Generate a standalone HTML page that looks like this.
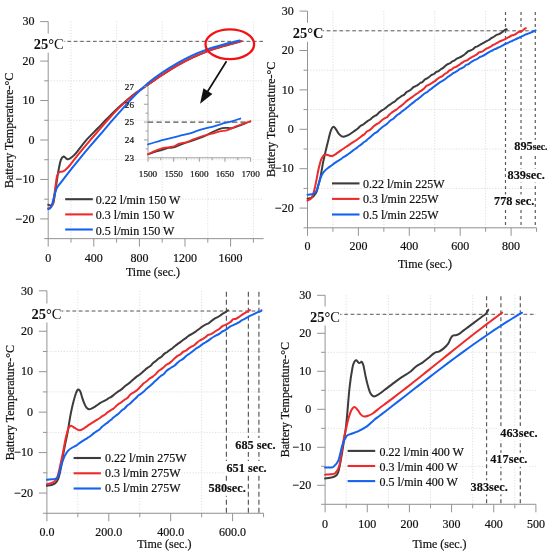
<!DOCTYPE html>
<html><head><meta charset="utf-8"><title>Battery temperature</title>
<style>html,body{margin:0;padding:0;background:#fff}svg{display:block}</style></head>
<body>
<svg width="550" height="555" viewBox="0 0 550 555">
<rect width="550" height="555" fill="#fff"/>
<g id="c3"><g stroke="#dedede" stroke-width="1" stroke-dasharray="1.2,1.6" fill="none"><line x1="77.85" y1="290.80" x2="77.85" y2="513.27"/><line x1="139.75" y1="290.80" x2="139.75" y2="513.27"/><line x1="201.65" y1="290.80" x2="201.65" y2="513.27"/><line x1="46.90" y1="513.27" x2="263.55" y2="513.27"/><line x1="46.90" y1="472.82" x2="263.55" y2="472.82"/><line x1="46.90" y1="432.38" x2="263.55" y2="432.38"/><line x1="46.90" y1="391.92" x2="263.55" y2="391.92"/><line x1="46.90" y1="351.47" x2="263.55" y2="351.47"/><line x1="46.90" y1="311.02" x2="263.55" y2="311.02"/></g>
<g stroke="#949494" stroke-width="1.0" fill="none"><path d="M46.90,290.80 V513.27 M42.90,513.27 H263.55"/><line x1="38.90" y1="493.05" x2="46.90" y2="493.05"/><line x1="42.90" y1="472.82" x2="46.90" y2="472.82"/><line x1="38.90" y1="452.60" x2="46.90" y2="452.60"/><line x1="42.90" y1="432.38" x2="46.90" y2="432.38"/><line x1="38.90" y1="412.15" x2="46.90" y2="412.15"/><line x1="42.90" y1="391.92" x2="46.90" y2="391.92"/><line x1="38.90" y1="371.70" x2="46.90" y2="371.70"/><line x1="42.90" y1="351.47" x2="46.90" y2="351.47"/><line x1="38.90" y1="331.25" x2="46.90" y2="331.25"/><line x1="42.90" y1="311.02" x2="46.90" y2="311.02"/><line x1="38.90" y1="290.80" x2="46.90" y2="290.80"/><line x1="46.90" y1="513.27" x2="46.90" y2="521.27"/><line x1="77.85" y1="513.27" x2="77.85" y2="517.27"/><line x1="108.80" y1="513.27" x2="108.80" y2="521.27"/><line x1="139.75" y1="513.27" x2="139.75" y2="517.27"/><line x1="170.70" y1="513.27" x2="170.70" y2="521.27"/><line x1="201.65" y1="513.27" x2="201.65" y2="517.27"/><line x1="232.60" y1="513.27" x2="232.60" y2="521.27"/><line x1="263.55" y1="513.27" x2="263.55" y2="517.27"/></g>
<g font-family="'Liberation Serif', 'Times New Roman', serif" font-size="12" fill="#111" stroke="#111" stroke-width="0.2"><text x="33.10" y="496.75" text-anchor="end">−20</text><text x="33.10" y="456.30" text-anchor="end">−10</text><text x="33.10" y="415.85" text-anchor="end">0</text><text x="33.10" y="375.40" text-anchor="end">10</text><text x="33.10" y="334.95" text-anchor="end">20</text><text x="33.10" y="294.50" text-anchor="end">30</text><text x="46.90" y="535.50" text-anchor="middle">0.0</text><text x="108.80" y="535.50" text-anchor="middle">200.0</text><text x="170.70" y="535.50" text-anchor="middle">400.0</text><text x="232.60" y="535.50" text-anchor="middle">600.0</text><text x="164.30" y="547.80" text-anchor="middle">Time (sec.)</text><text transform="translate(14.20,402.70) rotate(-90)" text-anchor="middle">Battery Temperature-°C</text></g>
<line x1="46.90" y1="311.02" x2="259.50" y2="311.02" stroke="#5a5a5a" stroke-width="1" stroke-dasharray="3.6,2.8"/>
<line x1="226.41" y1="291.80" x2="226.41" y2="513.27" stroke="#5c5c5c" stroke-width="1.2" stroke-dasharray="5,3"/>
<line x1="248.38" y1="291.80" x2="248.38" y2="513.27" stroke="#5c5c5c" stroke-width="1.2" stroke-dasharray="5,3"/>
<line x1="258.91" y1="291.80" x2="258.91" y2="513.27" stroke="#5c5c5c" stroke-width="1.2" stroke-dasharray="5,3"/>
<path d="M46.90,485.77 C47.67,485.63 50.20,485.36 51.54,484.96 C52.88,484.56 54.02,484.02 54.95,483.34 C55.88,482.67 56.46,481.99 57.11,480.91 C57.76,479.84 58.18,479.23 58.85,476.87 C59.52,474.51 60.37,470.74 61.14,466.76 C61.91,462.78 62.74,456.98 63.46,453.00 C64.18,449.03 64.80,446.20 65.47,442.89 C66.14,439.59 66.69,437.57 67.48,433.18 C68.27,428.80 69.41,421.05 70.21,416.60 C71.00,412.15 71.62,409.39 72.28,406.49 C72.93,403.59 73.57,401.30 74.14,399.21 C74.70,397.12 75.22,395.33 75.68,393.95 C76.15,392.57 76.51,391.66 76.92,390.91 C77.33,390.17 77.75,389.63 78.16,389.50 C78.57,389.36 78.98,389.63 79.40,390.10 C79.81,390.58 80.17,391.08 80.64,392.33 C81.10,393.58 81.62,395.84 82.18,397.59 C82.75,399.34 83.42,401.33 84.04,402.85 C84.66,404.36 85.33,405.75 85.90,406.69 C86.46,407.63 86.93,408.08 87.44,408.51 C87.96,408.93 88.42,409.17 88.99,409.24 C89.56,409.31 90.13,409.17 90.85,408.91 C91.57,408.66 92.40,408.24 93.32,407.70 C94.25,407.16 95.25,406.49 96.42,405.68 C97.59,404.87 98.80,403.76 100.35,402.85 C101.90,401.94 104.35,400.98 105.70,400.21 C107.06,399.45 107.56,398.83 108.49,398.27 C109.42,397.71 110.35,397.42 111.28,396.83 C112.20,396.23 113.13,395.42 114.06,394.70 C114.99,393.97 115.92,393.15 116.85,392.47 C117.78,391.79 118.70,391.28 119.63,390.63 C120.56,389.99 121.49,389.38 122.42,388.61 C123.35,387.84 124.27,386.77 125.20,386.00 C126.13,385.24 127.06,384.74 127.99,384.02 C128.92,383.30 129.85,382.49 130.77,381.68 C131.70,380.87 132.63,379.97 133.56,379.17 C134.49,378.37 135.42,377.57 136.35,376.87 C137.27,376.17 138.20,375.67 139.13,374.98 C140.06,374.28 140.99,373.51 141.92,372.70 C142.84,371.89 143.77,370.94 144.70,370.14 C145.63,369.35 146.56,368.61 147.49,367.93 C148.42,367.26 149.34,366.95 150.27,366.12 C151.20,365.28 152.13,363.77 153.06,362.92 C153.99,362.06 154.92,361.72 155.84,360.98 C156.77,360.25 157.70,359.21 158.63,358.51 C159.56,357.82 160.49,357.58 161.41,356.81 C162.34,356.04 163.27,354.66 164.20,353.89 C165.13,353.13 166.06,352.89 166.99,352.23 C167.91,351.57 168.84,350.61 169.77,349.94 C170.70,349.26 171.63,348.88 172.56,348.17 C173.49,347.47 174.41,346.48 175.34,345.73 C176.27,344.98 177.20,344.36 178.13,343.68 C179.06,343.00 179.99,342.34 180.91,341.63 C181.84,340.93 182.77,340.13 183.70,339.46 C184.63,338.78 185.56,338.27 186.48,337.59 C187.41,336.92 188.34,336.01 189.27,335.40 C190.20,334.78 191.13,334.44 192.06,333.90 C192.98,333.36 193.91,332.81 194.84,332.16 C195.77,331.52 196.70,330.72 197.63,330.03 C198.56,329.33 199.48,328.68 200.41,328.01 C201.34,327.34 202.27,326.63 203.20,326.01 C204.13,325.40 205.05,324.79 205.98,324.33 C206.91,323.87 207.84,323.84 208.77,323.27 C209.70,322.69 210.63,321.62 211.55,320.87 C212.48,320.12 213.41,319.36 214.34,318.78 C215.27,318.20 216.20,317.89 217.12,317.38 C218.05,316.87 218.98,316.36 219.91,315.74 C220.84,315.13 221.77,314.30 222.70,313.69 C223.62,313.08 224.60,312.64 225.48,312.08 C226.36,311.51 227.54,310.57 227.96,310.27" fill="none" stroke="#3c3c3c" stroke-width="2.0" stroke-linejoin="round" stroke-linecap="round"/>
<path d="M46.90,484.15 C47.67,483.95 50.20,483.48 51.54,482.94 C52.88,482.40 53.97,481.93 54.95,480.91 C55.93,479.90 56.55,479.43 57.42,476.87 C58.30,474.31 59.30,469.52 60.21,465.54 C61.12,461.57 61.99,457.52 62.90,453.00 C63.81,448.49 64.74,442.55 65.66,438.44 C66.57,434.33 67.64,430.35 68.38,428.33 C69.12,426.31 69.60,426.71 70.11,426.31 C70.63,425.90 70.70,425.63 71.47,425.90 C72.25,426.17 73.43,427.18 74.75,427.93 C76.08,428.67 77.85,430.29 79.40,430.35 C80.95,430.42 82.39,429.27 84.04,428.33 C85.69,427.39 87.50,425.90 89.30,424.69 C91.11,423.48 93.17,422.12 94.87,421.05 C96.57,419.98 98.28,419.09 99.52,418.28 C100.75,417.48 101.37,416.82 102.30,416.19 C103.23,415.56 104.16,415.20 105.09,414.50 C106.01,413.81 106.94,412.71 107.87,412.00 C108.80,411.30 109.73,410.84 110.66,410.28 C111.59,409.71 112.51,409.33 113.44,408.62 C114.37,407.91 115.30,406.81 116.23,405.99 C117.16,405.17 118.08,404.35 119.01,403.68 C119.94,403.02 120.87,402.67 121.80,402.01 C122.73,401.34 123.66,400.35 124.58,399.70 C125.51,399.06 126.44,398.96 127.37,398.11 C128.30,397.27 129.23,395.52 130.16,394.65 C131.08,393.78 132.01,393.47 132.94,392.88 C133.87,392.30 134.80,391.83 135.73,391.12 C136.65,390.42 137.58,389.56 138.51,388.67 C139.44,387.78 140.37,386.71 141.30,385.78 C142.23,384.85 143.15,383.88 144.08,383.09 C145.01,382.31 145.94,381.83 146.87,381.08 C147.80,380.32 148.73,379.27 149.65,378.56 C150.58,377.85 151.51,377.49 152.44,376.83 C153.37,376.18 154.30,375.51 155.22,374.63 C156.15,373.75 157.08,372.41 158.01,371.55 C158.94,370.68 159.87,370.13 160.80,369.44 C161.72,368.75 162.65,368.18 163.58,367.40 C164.51,366.61 165.44,365.39 166.37,364.71 C167.30,364.03 168.22,363.96 169.15,363.34 C170.08,362.72 171.01,361.82 171.94,360.99 C172.87,360.15 173.79,359.17 174.72,358.33 C175.65,357.49 176.58,356.57 177.51,355.93 C178.44,355.30 179.37,355.20 180.29,354.53 C181.22,353.85 182.15,352.52 183.08,351.88 C184.01,351.24 184.94,351.28 185.87,350.70 C186.79,350.11 187.72,349.06 188.65,348.37 C189.58,347.69 190.51,347.14 191.44,346.61 C192.37,346.08 193.29,345.86 194.22,345.20 C195.15,344.54 196.08,343.42 197.01,342.64 C197.94,341.86 198.86,341.12 199.79,340.53 C200.72,339.94 201.65,339.64 202.58,339.09 C203.51,338.54 204.44,337.95 205.36,337.25 C206.29,336.56 207.22,335.46 208.15,334.94 C209.08,334.42 210.01,334.55 210.94,334.14 C211.86,333.74 212.79,333.11 213.72,332.50 C214.65,331.88 215.58,331.06 216.51,330.47 C217.43,329.88 218.36,329.66 219.29,328.97 C220.22,328.28 221.15,327.01 222.08,326.36 C223.01,325.71 223.93,325.49 224.86,325.07 C225.79,324.64 226.72,324.33 227.65,323.83 C228.58,323.33 229.50,322.86 230.43,322.08 C231.36,321.30 232.29,319.71 233.22,319.16 C234.15,318.61 235.08,319.10 236.00,318.77 C236.93,318.44 237.86,317.78 238.79,317.17 C239.72,316.56 240.65,315.75 241.58,315.11 C242.50,314.47 243.43,313.86 244.36,313.31 C245.29,312.75 246.22,312.29 247.15,311.76 C248.08,311.23 249.47,310.39 249.93,310.12" fill="none" stroke="#ee2a2a" stroke-width="2.0" stroke-linejoin="round" stroke-linecap="round"/>
<path d="M46.90,479.70 C47.67,479.63 50.20,479.43 51.54,479.30 C52.88,479.16 53.97,479.16 54.95,478.89 C55.93,478.62 56.70,478.69 57.42,477.68 C58.15,476.67 58.67,474.78 59.28,472.82 C59.89,470.87 60.17,468.78 61.08,465.95 C61.98,463.12 63.51,458.43 64.73,455.84 C65.94,453.24 67.16,451.72 68.38,450.38 C69.60,449.03 70.66,448.59 72.03,447.75 C73.40,446.90 75.13,446.26 76.61,445.32 C78.10,444.38 79.45,443.11 80.94,442.08 C82.44,441.05 84.35,439.91 85.59,439.13 C86.83,438.36 87.44,438.06 88.37,437.46 C89.30,436.86 90.23,436.28 91.16,435.56 C92.09,434.83 93.02,433.83 93.94,433.10 C94.87,432.37 95.80,431.79 96.73,431.17 C97.66,430.56 98.59,430.19 99.52,429.42 C100.44,428.65 101.37,427.38 102.30,426.54 C103.23,425.71 104.16,425.10 105.09,424.40 C106.01,423.71 106.94,423.10 107.87,422.37 C108.80,421.65 109.73,420.86 110.66,420.06 C111.59,419.27 112.51,418.37 113.44,417.60 C114.37,416.83 115.30,416.18 116.23,415.45 C117.16,414.72 118.08,414.06 119.01,413.21 C119.94,412.37 120.87,411.20 121.80,410.39 C122.73,409.59 123.66,409.20 124.58,408.39 C125.51,407.57 126.44,406.31 127.37,405.50 C128.30,404.68 129.23,404.29 130.16,403.49 C131.08,402.69 132.01,401.57 132.94,400.70 C133.87,399.83 134.80,399.14 135.73,398.25 C136.65,397.35 137.58,396.10 138.51,395.32 C139.44,394.53 140.37,394.24 141.30,393.55 C142.23,392.86 143.15,392.01 144.08,391.18 C145.01,390.35 145.94,389.37 146.87,388.55 C147.80,387.72 148.73,387.04 149.65,386.23 C150.58,385.42 151.51,384.55 152.44,383.68 C153.37,382.81 154.30,381.88 155.22,381.03 C156.15,380.18 157.08,379.40 158.01,378.56 C158.94,377.71 159.87,376.70 160.80,375.97 C161.72,375.25 162.65,375.03 163.58,374.21 C164.51,373.39 165.44,371.95 166.37,371.07 C167.30,370.19 168.22,369.58 169.15,368.93 C170.08,368.29 171.01,367.77 171.94,367.19 C172.87,366.61 173.79,366.20 174.72,365.46 C175.65,364.71 176.58,363.53 177.51,362.71 C178.44,361.88 179.37,361.12 180.29,360.49 C181.22,359.85 182.15,359.62 183.08,358.91 C184.01,358.20 184.94,357.00 185.87,356.21 C186.79,355.43 187.72,354.85 188.65,354.19 C189.58,353.54 190.51,352.99 191.44,352.28 C192.37,351.57 193.29,350.66 194.22,349.91 C195.15,349.17 196.08,348.45 197.01,347.84 C197.94,347.22 198.86,346.86 199.79,346.24 C200.72,345.63 201.65,344.78 202.58,344.15 C203.51,343.52 204.44,343.06 205.36,342.48 C206.29,341.90 207.22,341.30 208.15,340.66 C209.08,340.02 210.01,339.28 210.94,338.63 C211.86,337.98 212.79,337.30 213.72,336.73 C214.65,336.17 215.58,335.71 216.51,335.24 C217.43,334.77 218.36,334.54 219.29,333.92 C220.22,333.31 221.15,332.13 222.08,331.55 C223.01,330.96 223.93,330.95 224.86,330.41 C225.79,329.88 226.72,329.04 227.65,328.36 C228.58,327.68 229.50,326.88 230.43,326.35 C231.36,325.82 232.29,325.61 233.22,325.20 C234.15,324.80 235.08,324.39 236.00,323.93 C236.93,323.47 237.86,323.06 238.79,322.46 C239.72,321.85 240.65,320.86 241.58,320.30 C242.50,319.74 243.43,319.56 244.36,319.09 C245.29,318.62 246.22,318.00 247.15,317.47 C248.08,316.94 249.00,316.37 249.93,315.91 C250.86,315.44 251.79,315.12 252.72,314.69 C253.65,314.25 254.57,313.75 255.50,313.30 C256.43,312.86 257.36,312.38 258.29,312.01 C259.22,311.65 260.56,311.40 261.07,311.09 C261.59,310.79 261.33,310.34 261.38,310.19" fill="none" stroke="#1463ee" stroke-width="2.0" stroke-linejoin="round" stroke-linecap="round"/>

<rect x="30.50" y="303.50" width="31" height="19" fill="#fff"/>
<text x="31.50" y="318.50" font-family="'Liberation Serif', 'Times New Roman', serif" font-size="14.5" fill="#111"><tspan font-weight="bold">25°</tspan>C</text>
<line x1="73.60" y1="458.00" x2="100.90" y2="458.00" stroke="#3c3c3c" stroke-width="2.1"/>
<text x="105.00" y="462.00" font-family="'Liberation Serif', 'Times New Roman', serif" font-size="12" fill="#111" stroke="#111" stroke-width="0.2">0.22 l/min 275W</text>
<line x1="73.60" y1="473.30" x2="100.90" y2="473.30" stroke="#ee2a2a" stroke-width="2.1"/>
<text x="105.00" y="477.30" font-family="'Liberation Serif', 'Times New Roman', serif" font-size="12" fill="#111" stroke="#111" stroke-width="0.2">0.3 l/min 275W</text>
<line x1="73.60" y1="488.50" x2="100.90" y2="488.50" stroke="#1463ee" stroke-width="2.1"/>
<text x="105.00" y="492.10" font-family="'Liberation Serif', 'Times New Roman', serif" font-size="12" fill="#111" stroke="#111" stroke-width="0.2">0.5 l/min 275W</text>
<rect x="233.80" y="438.00" width="42.10" height="14" fill="#fff"/>
<text x="235.30" y="448.50" font-family="'Liberation Serif', 'Times New Roman', serif" font-size="12.3" font-weight="bold" fill="#111" stroke="#111" stroke-width="0.15" xml:space="preserve">685 sec.</text>
<rect x="224.90" y="461.00" width="42.60" height="14" fill="#fff"/>
<text x="226.40" y="471.50" font-family="'Liberation Serif', 'Times New Roman', serif" font-size="12.3" font-weight="bold" fill="#111" stroke="#111" stroke-width="0.15" xml:space="preserve">651 sec.</text>
<rect x="207.10" y="481.80" width="39.40" height="14" fill="#fff"/>
<text x="208.60" y="492.30" font-family="'Liberation Serif', 'Times New Roman', serif" font-size="12.3" font-weight="bold" fill="#111" stroke="#111" stroke-width="0.15" xml:space="preserve">580sec.</text></g>
<g id="c4"><g stroke="#dedede" stroke-width="1" stroke-dasharray="1.2,1.6" fill="none"><line x1="346.18" y1="295.30" x2="346.18" y2="504.30"/><line x1="388.34" y1="295.30" x2="388.34" y2="504.30"/><line x1="430.50" y1="295.30" x2="430.50" y2="504.30"/><line x1="472.66" y1="295.30" x2="472.66" y2="504.30"/><line x1="514.82" y1="295.30" x2="514.82" y2="504.30"/><line x1="325.10" y1="504.30" x2="535.90" y2="504.30"/><line x1="325.10" y1="466.30" x2="535.90" y2="466.30"/><line x1="325.10" y1="428.30" x2="535.90" y2="428.30"/><line x1="325.10" y1="390.30" x2="535.90" y2="390.30"/><line x1="325.10" y1="352.30" x2="535.90" y2="352.30"/><line x1="325.10" y1="314.30" x2="535.90" y2="314.30"/></g>
<g stroke="#949494" stroke-width="1.0" fill="none"><path d="M325.10,295.30 V504.30 M321.10,504.30 H535.90"/><line x1="317.10" y1="485.30" x2="325.10" y2="485.30"/><line x1="321.10" y1="466.30" x2="325.10" y2="466.30"/><line x1="317.10" y1="447.30" x2="325.10" y2="447.30"/><line x1="321.10" y1="428.30" x2="325.10" y2="428.30"/><line x1="317.10" y1="409.30" x2="325.10" y2="409.30"/><line x1="321.10" y1="390.30" x2="325.10" y2="390.30"/><line x1="317.10" y1="371.30" x2="325.10" y2="371.30"/><line x1="321.10" y1="352.30" x2="325.10" y2="352.30"/><line x1="317.10" y1="333.30" x2="325.10" y2="333.30"/><line x1="321.10" y1="314.30" x2="325.10" y2="314.30"/><line x1="317.10" y1="295.30" x2="325.10" y2="295.30"/><line x1="325.10" y1="504.30" x2="325.10" y2="512.30"/><line x1="346.18" y1="504.30" x2="346.18" y2="508.30"/><line x1="367.26" y1="504.30" x2="367.26" y2="512.30"/><line x1="388.34" y1="504.30" x2="388.34" y2="508.30"/><line x1="409.42" y1="504.30" x2="409.42" y2="512.30"/><line x1="430.50" y1="504.30" x2="430.50" y2="508.30"/><line x1="451.58" y1="504.30" x2="451.58" y2="512.30"/><line x1="472.66" y1="504.30" x2="472.66" y2="508.30"/><line x1="493.74" y1="504.30" x2="493.74" y2="512.30"/><line x1="514.82" y1="504.30" x2="514.82" y2="508.30"/><line x1="535.90" y1="504.30" x2="535.90" y2="512.30"/></g>
<g font-family="'Liberation Serif', 'Times New Roman', serif" font-size="12" fill="#111" stroke="#111" stroke-width="0.2"><text x="311.30" y="489.00" text-anchor="end">−20</text><text x="311.30" y="451.00" text-anchor="end">−10</text><text x="311.30" y="413.00" text-anchor="end">0</text><text x="311.30" y="375.00" text-anchor="end">10</text><text x="311.30" y="337.00" text-anchor="end">20</text><text x="311.30" y="299.00" text-anchor="end">30</text><text x="325.10" y="527.50" text-anchor="middle">0</text><text x="367.26" y="527.50" text-anchor="middle">100</text><text x="409.42" y="527.50" text-anchor="middle">200</text><text x="451.58" y="527.50" text-anchor="middle">300</text><text x="493.74" y="527.50" text-anchor="middle">400</text><text x="535.90" y="527.50" text-anchor="middle">500</text><text x="439.50" y="548.30" text-anchor="middle">Time (sec.)</text><text transform="translate(289.00,399.70) rotate(-90)" text-anchor="middle">Battery Temperature-°C</text></g>
<line x1="325.10" y1="314.30" x2="534.70" y2="314.30" stroke="#5a5a5a" stroke-width="1" stroke-dasharray="3.6,2.8"/>
<line x1="486.57" y1="296.30" x2="486.57" y2="504.30" stroke="#5c5c5c" stroke-width="1.2" stroke-dasharray="4,3"/>
<line x1="500.91" y1="296.30" x2="500.91" y2="504.30" stroke="#5c5c5c" stroke-width="1.2" stroke-dasharray="4,3"/>
<line x1="520.30" y1="296.30" x2="520.30" y2="504.30" stroke="#5c5c5c" stroke-width="1.2" stroke-dasharray="4,3"/>
<path d="M325.10,478.46 C325.94,478.33 328.75,477.95 330.16,477.70 C331.56,477.45 332.20,477.83 333.53,476.94 C334.87,476.05 336.69,476.75 338.17,472.38 C339.65,468.01 341.05,458.64 342.39,450.72 C343.72,442.80 344.99,435.39 346.18,424.88 C347.37,414.37 348.50,397.20 349.55,387.64 C350.61,378.08 351.66,371.87 352.50,367.50 C353.35,363.13 353.98,362.62 354.61,361.42 C355.24,360.22 355.60,360.03 356.30,360.28 C357.00,360.53 358.13,362.56 358.83,362.94 C359.53,363.32 360.02,362.75 360.51,362.56 C361.01,362.37 361.29,361.29 361.78,361.80 C362.27,362.31 362.83,363.19 363.47,365.60 C364.10,368.01 364.87,373.01 365.57,376.24 C366.28,379.47 366.98,382.38 367.68,384.98 C368.38,387.58 369.09,390.11 369.79,391.82 C370.49,393.53 371.19,394.48 371.90,395.24 C372.60,396.00 373.02,396.44 374.01,396.38 C374.99,396.32 376.11,395.87 377.80,394.86 C379.49,393.85 381.66,392.14 384.12,390.30 C386.58,388.46 389.68,385.99 392.56,383.84 C395.44,381.69 398.53,379.34 401.41,377.38 C404.29,375.42 407.45,373.83 409.84,372.06 C412.23,370.29 413.64,368.32 415.74,366.74 C417.85,365.16 420.38,364.02 422.49,362.56 C424.60,361.10 426.42,359.58 428.39,358.00 C430.36,356.42 432.54,354.14 434.29,353.06 C436.05,351.98 437.46,352.24 438.93,351.54 C440.41,350.84 441.60,350.21 443.15,348.88 C444.69,347.55 446.94,345.33 448.21,343.56 C449.47,341.79 449.96,339.57 450.74,338.24 C451.51,336.91 452.00,336.09 452.84,335.58 C453.69,335.07 454.88,335.39 455.80,335.20 C456.71,335.01 457.06,335.20 458.33,334.44 C459.59,333.68 461.70,331.91 463.38,330.64 C465.07,329.37 465.91,328.74 468.44,326.84 C470.97,324.94 476.10,321.08 478.56,319.24 C481.02,317.40 481.94,316.77 483.20,315.82 C484.46,314.87 485.31,314.55 486.15,313.54 C486.99,312.53 487.91,310.37 488.26,309.74" fill="none" stroke="#3c3c3c" stroke-width="2.0" stroke-linejoin="round" stroke-linecap="round"/>
<path d="M325.10,474.66 C325.94,474.60 328.47,474.53 330.16,474.28 C331.85,474.03 333.67,474.66 335.22,473.14 C336.76,471.62 338.03,470.80 339.43,465.16 C340.84,459.52 342.53,445.46 343.65,439.32 C344.77,433.18 345.41,431.66 346.18,428.30 C346.95,424.94 347.44,422.16 348.29,419.18 C349.13,416.20 350.19,412.47 351.24,410.44 C352.29,408.41 353.49,407.02 354.61,407.02 C355.74,407.02 356.93,409.17 357.98,410.44 C359.04,411.71 359.95,413.61 360.94,414.62 C361.92,415.63 362.69,416.33 363.89,416.52 C365.08,416.71 366.63,416.27 368.10,415.76 C369.58,415.25 370.77,414.81 372.74,413.48 C374.71,412.15 377.66,409.51 379.91,407.78 C382.16,406.05 384.12,404.68 386.23,403.10 C388.34,401.53 390.45,399.95 392.56,398.35 C394.66,396.76 396.77,395.14 398.88,393.52 C400.99,391.90 403.10,390.27 405.20,388.63 C407.31,386.99 409.42,385.34 411.53,383.68 C413.64,382.02 415.74,380.35 417.85,378.68 C419.96,377.01 422.07,375.33 424.18,373.65 C426.28,371.97 428.39,370.28 430.50,368.59 C432.61,366.90 434.72,365.21 436.82,363.52 C438.93,361.83 441.04,360.13 443.15,358.44 C445.26,356.75 447.36,355.06 449.47,353.37 C451.58,351.68 453.69,349.99 455.80,348.31 C457.90,346.63 460.01,344.95 462.12,343.28 C464.23,341.60 466.34,339.94 468.44,338.28 C470.55,336.62 472.66,334.97 474.77,333.33 C476.88,331.69 478.98,330.05 481.09,328.43 C483.20,326.81 485.31,325.20 487.42,323.60 C489.52,322.01 491.63,320.42 493.74,318.85 C495.85,317.28 498.66,315.22 500.06,314.18 C501.47,313.15 501.82,312.91 502.17,312.65" fill="none" stroke="#ee2a2a" stroke-width="2.0" stroke-linejoin="round" stroke-linecap="round"/>
<path d="M325.10,467.44 C325.94,467.44 328.75,467.57 330.16,467.44 C331.56,467.31 332.20,467.76 333.53,466.68 C334.87,465.60 336.69,464.59 338.17,460.98 C339.65,457.37 341.05,449.07 342.39,445.02 C343.72,440.97 344.99,438.43 346.18,436.66 C347.37,434.89 347.59,435.27 349.55,434.38 C351.52,433.49 355.10,432.67 357.98,431.34 C360.87,430.01 364.24,428.22 366.84,426.40 C369.44,424.58 371.41,422.22 373.58,420.42 C375.76,418.61 377.80,417.18 379.91,415.56 C382.02,413.94 384.12,412.31 386.23,410.68 C388.34,409.05 390.45,407.41 392.56,405.78 C394.66,404.14 396.77,402.50 398.88,400.86 C400.99,399.22 403.10,397.58 405.20,395.95 C407.31,394.31 409.42,392.67 411.53,391.03 C413.64,389.39 415.74,387.76 417.85,386.12 C419.96,384.49 422.07,382.86 424.18,381.23 C426.28,379.61 428.39,377.98 430.50,376.36 C432.61,374.75 434.72,373.13 436.82,371.53 C438.93,369.92 441.04,368.32 443.15,366.72 C445.26,365.13 447.36,363.54 449.47,361.96 C451.58,360.39 453.69,358.82 455.80,357.26 C457.90,355.70 460.01,354.14 462.12,352.60 C464.23,351.06 466.34,349.53 468.44,348.02 C470.55,346.50 472.66,344.99 474.77,343.50 C476.88,342.01 478.98,340.53 481.09,339.06 C483.20,337.59 485.31,336.14 487.42,334.71 C489.52,333.27 491.63,331.85 493.74,330.44 C495.85,329.04 497.96,327.65 500.06,326.28 C502.17,324.90 504.28,323.55 506.39,322.22 C508.50,320.88 510.60,319.56 512.71,318.27 C514.82,316.97 517.49,315.37 519.04,314.44 C520.58,313.51 521.50,312.98 521.99,312.69" fill="none" stroke="#1463ee" stroke-width="2.0" stroke-linejoin="round" stroke-linecap="round"/>

<rect x="309.00" y="306.50" width="31" height="19" fill="#fff"/>
<text x="310.00" y="321.50" font-family="'Liberation Serif', 'Times New Roman', serif" font-size="14.5" fill="#111"><tspan font-weight="bold">25°</tspan>C</text>
<line x1="347.60" y1="450.90" x2="375.20" y2="450.90" stroke="#3c3c3c" stroke-width="2.1"/>
<text x="379.50" y="455.80" font-family="'Liberation Serif', 'Times New Roman', serif" font-size="12" fill="#111" stroke="#111" stroke-width="0.2">0.22 l/min 400 W</text>
<line x1="347.60" y1="466.00" x2="375.20" y2="466.00" stroke="#ee2a2a" stroke-width="2.1"/>
<text x="379.50" y="470.80" font-family="'Liberation Serif', 'Times New Roman', serif" font-size="12" fill="#111" stroke="#111" stroke-width="0.2">0.3 l/min 400 W</text>
<line x1="347.60" y1="481.10" x2="375.20" y2="481.10" stroke="#1463ee" stroke-width="2.1"/>
<text x="379.50" y="485.70" font-family="'Liberation Serif', 'Times New Roman', serif" font-size="12" fill="#111" stroke="#111" stroke-width="0.2">0.5 l/min 400 W</text>
<rect x="498.80" y="426.10" width="39.20" height="14" fill="#fff"/>
<text x="500.30" y="436.60" font-family="'Liberation Serif', 'Times New Roman', serif" font-size="12.3" font-weight="bold" fill="#111" stroke="#111" stroke-width="0.15" xml:space="preserve">463sec.</text>
<rect x="488.70" y="452.80" width="39.80" height="14" fill="#fff"/>
<text x="490.20" y="463.30" font-family="'Liberation Serif', 'Times New Roman', serif" font-size="12.3" font-weight="bold" fill="#111" stroke="#111" stroke-width="0.15" xml:space="preserve">417sec.</text>
<rect x="469.10" y="480.30" width="39.60" height="14" fill="#fff"/>
<text x="470.60" y="490.80" font-family="'Liberation Serif', 'Times New Roman', serif" font-size="12.3" font-weight="bold" fill="#111" stroke="#111" stroke-width="0.15" xml:space="preserve">383sec.</text></g>
<g id="c1"><g stroke="#dedede" stroke-width="1" stroke-dasharray="1.2,1.6" fill="none"><line x1="71.00" y1="21.62" x2="71.00" y2="238.65"/><line x1="116.60" y1="21.62" x2="116.60" y2="238.65"/><line x1="162.20" y1="21.62" x2="162.20" y2="238.65"/><line x1="207.80" y1="21.62" x2="207.80" y2="238.65"/><line x1="253.40" y1="21.62" x2="253.40" y2="238.65"/><line x1="48.20" y1="238.65" x2="263.66" y2="238.65"/><line x1="48.20" y1="199.19" x2="263.66" y2="199.19"/><line x1="48.20" y1="159.73" x2="263.66" y2="159.73"/><line x1="48.20" y1="120.27" x2="263.66" y2="120.27"/><line x1="48.20" y1="80.81" x2="263.66" y2="80.81"/><line x1="48.20" y1="41.35" x2="263.66" y2="41.35"/></g>
<g stroke="#949494" stroke-width="1.0" fill="none"><path d="M48.20,21.62 V238.65 M44.20,238.65 H263.66"/><line x1="40.20" y1="218.92" x2="48.20" y2="218.92"/><line x1="44.20" y1="199.19" x2="48.20" y2="199.19"/><line x1="40.20" y1="179.46" x2="48.20" y2="179.46"/><line x1="44.20" y1="159.73" x2="48.20" y2="159.73"/><line x1="40.20" y1="140.00" x2="48.20" y2="140.00"/><line x1="44.20" y1="120.27" x2="48.20" y2="120.27"/><line x1="40.20" y1="100.54" x2="48.20" y2="100.54"/><line x1="44.20" y1="80.81" x2="48.20" y2="80.81"/><line x1="40.20" y1="61.08" x2="48.20" y2="61.08"/><line x1="44.20" y1="41.35" x2="48.20" y2="41.35"/><line x1="40.20" y1="21.62" x2="48.20" y2="21.62"/><line x1="48.20" y1="238.65" x2="48.20" y2="246.65"/><line x1="71.00" y1="238.65" x2="71.00" y2="242.65"/><line x1="93.80" y1="238.65" x2="93.80" y2="246.65"/><line x1="116.60" y1="238.65" x2="116.60" y2="242.65"/><line x1="139.40" y1="238.65" x2="139.40" y2="246.65"/><line x1="162.20" y1="238.65" x2="162.20" y2="242.65"/><line x1="185.00" y1="238.65" x2="185.00" y2="246.65"/><line x1="207.80" y1="238.65" x2="207.80" y2="242.65"/><line x1="230.60" y1="238.65" x2="230.60" y2="246.65"/><line x1="253.40" y1="238.65" x2="253.40" y2="242.65"/></g>
<g font-family="'Liberation Serif', 'Times New Roman', serif" font-size="12" fill="#111" stroke="#111" stroke-width="0.2"><text x="34.40" y="222.62" text-anchor="end">−20</text><text x="34.40" y="183.16" text-anchor="end">−10</text><text x="34.40" y="143.70" text-anchor="end">0</text><text x="34.40" y="104.24" text-anchor="end">10</text><text x="34.40" y="64.78" text-anchor="end">20</text><text x="34.40" y="25.32" text-anchor="end">30</text><text x="48.20" y="261.60" text-anchor="middle">0</text><text x="93.80" y="261.60" text-anchor="middle">400</text><text x="139.40" y="261.60" text-anchor="middle">800</text><text x="185.00" y="261.60" text-anchor="middle">1200</text><text x="230.60" y="261.60" text-anchor="middle">1600</text><text x="153.00" y="276.30" text-anchor="middle">Time (sec.)</text><text transform="translate(13.20,130.40) rotate(-90)" text-anchor="middle">Battery Temperature-°C</text></g>
<line x1="48.20" y1="41.35" x2="263.50" y2="41.35" stroke="#5a5a5a" stroke-width="1" stroke-dasharray="3.6,2.8"/>
<path d="M48.20,204.71 C48.68,204.85 50.20,205.77 51.05,205.50 C51.91,205.24 52.67,205.17 53.33,203.14 C54.00,201.10 54.38,197.55 55.04,193.27 C55.71,189.00 56.66,181.76 57.32,177.49 C57.99,173.21 58.42,170.58 59.03,167.62 C59.64,164.66 60.21,161.57 60.97,159.73 C61.73,157.89 62.77,156.84 63.59,156.57 C64.41,156.31 65.11,157.69 65.87,158.15 C66.63,158.61 67.30,159.40 68.15,159.34 C69.01,159.27 69.73,158.74 71.00,157.76 C72.27,156.77 73.34,156.24 75.79,153.42 C78.24,150.59 82.08,144.93 85.71,140.79 C89.34,136.65 93.93,132.31 97.56,128.56 C101.19,124.81 103.85,121.91 107.48,118.30 C111.11,114.68 114.97,110.80 119.34,106.85 C123.71,102.91 128.85,98.37 133.70,94.62 C138.54,90.87 143.66,87.65 148.41,84.36 C153.16,81.07 157.35,78.05 162.20,74.89 C167.04,71.73 172.54,68.25 177.48,65.42 C182.42,62.59 187.00,60.23 191.84,57.92 C196.69,55.62 201.23,53.58 206.55,51.61 C211.87,49.64 218.04,47.80 223.76,46.09 C229.48,44.38 238.01,42.14 240.86,41.35" fill="none" stroke="#3c3c3c" stroke-width="2.0" stroke-linejoin="round" stroke-linecap="round"/>
<path d="M48.20,208.27 C48.58,208.20 49.72,208.59 50.48,207.87 C51.24,207.15 52.17,205.70 52.76,203.93 C53.35,202.15 53.54,200.31 54.01,197.22 C54.49,194.13 55.12,188.86 55.61,185.38 C56.10,181.89 56.41,178.47 56.98,176.30 C57.55,174.13 58.31,173.11 59.03,172.36 C59.75,171.60 60.55,171.96 61.31,171.77 C62.07,171.57 62.74,171.67 63.59,171.17 C64.45,170.68 65.39,169.79 66.44,168.81 C67.48,167.82 67.64,167.95 69.86,165.25 C72.08,162.56 76.47,156.70 79.78,152.63 C83.08,148.55 86.39,144.67 89.70,140.79 C93.00,136.91 96.65,132.77 99.61,129.35 C102.58,125.93 104.19,123.89 107.48,120.27 C110.77,116.65 114.97,111.85 119.34,107.64 C123.71,103.43 128.85,98.90 133.70,95.02 C138.54,91.14 143.66,87.72 148.41,84.36 C153.16,81.01 157.35,78.05 162.20,74.89 C167.04,71.73 172.54,68.25 177.48,65.42 C182.42,62.59 187.00,60.23 191.84,57.92 C196.69,55.62 201.23,53.65 206.55,51.61 C211.87,49.57 217.85,47.43 223.76,45.69 C229.67,43.95 238.96,41.91 242.00,41.15" fill="none" stroke="#ee2a2a" stroke-width="2.0" stroke-linejoin="round" stroke-linecap="round"/>
<path d="M48.20,209.06 C48.48,208.92 49.26,209.06 49.91,208.27 C50.56,207.48 51.45,205.96 52.08,204.32 C52.70,202.68 53.18,200.31 53.67,198.40 C54.17,196.49 54.49,194.65 55.04,192.88 C55.59,191.10 56.22,189.19 56.98,187.75 C57.74,186.30 57.45,187.02 59.60,184.20 C61.75,181.37 66.50,175.05 69.86,170.78 C73.22,166.50 76.47,162.56 79.78,158.55 C83.08,154.53 85.72,151.38 89.70,146.71 C93.67,142.04 99.88,134.87 103.60,130.53 C107.33,126.19 109.42,123.69 112.04,120.66 C114.66,117.64 115.73,116.39 119.34,112.38 C122.95,108.37 128.85,101.53 133.70,96.59 C138.54,91.66 143.66,86.79 148.41,82.78 C153.16,78.77 157.35,75.81 162.20,72.52 C167.04,69.24 172.54,65.88 177.48,63.05 C182.42,60.23 187.00,57.79 191.84,55.56 C196.69,53.32 201.23,51.48 206.55,49.64 C211.87,47.80 218.23,46.02 223.76,44.51 C229.29,42.99 237.06,41.22 239.72,40.56" fill="none" stroke="#1463ee" stroke-width="2.0" stroke-linejoin="round" stroke-linecap="round"/>
<g stroke="#949494" stroke-width="0.9" fill="none"><path d="M148.00,86.40 V157.80 H250.60"/><line x1="145.60" y1="148.88" x2="148.00" y2="148.88"/><line x1="144.00" y1="139.95" x2="148.00" y2="139.95"/><line x1="145.60" y1="131.03" x2="148.00" y2="131.03"/><line x1="144.00" y1="122.10" x2="148.00" y2="122.10"/><line x1="145.60" y1="113.18" x2="148.00" y2="113.18"/><line x1="144.00" y1="104.25" x2="148.00" y2="104.25"/><line x1="145.60" y1="95.33" x2="148.00" y2="95.33"/><line x1="144.00" y1="86.40" x2="148.00" y2="86.40"/><line x1="148.00" y1="157.80" x2="148.00" y2="161.80"/><line x1="160.82" y1="157.80" x2="160.82" y2="160.20"/><line x1="173.65" y1="157.80" x2="173.65" y2="161.80"/><line x1="186.47" y1="157.80" x2="186.47" y2="160.20"/><line x1="199.30" y1="157.80" x2="199.30" y2="161.80"/><line x1="212.12" y1="157.80" x2="212.12" y2="160.20"/><line x1="224.95" y1="157.80" x2="224.95" y2="161.80"/><line x1="237.78" y1="157.80" x2="237.78" y2="160.20"/><line x1="250.60" y1="157.80" x2="250.60" y2="161.80"/></g>
<g font-family="'Liberation Serif', 'Times New Roman', serif" font-size="9.2" fill="#111" stroke="#111" stroke-width="0.2"><text x="134.00" y="161.10" text-anchor="end">23</text><text x="134.00" y="143.25" text-anchor="end">24</text><text x="134.00" y="125.40" text-anchor="end">25</text><text x="134.00" y="107.55" text-anchor="end">26</text><text x="134.00" y="89.70" text-anchor="end">27</text><text x="148.00" y="177.20" text-anchor="middle">1500</text><text x="173.65" y="177.20" text-anchor="middle">1550</text><text x="199.30" y="177.20" text-anchor="middle">1600</text><text x="224.95" y="177.20" text-anchor="middle">1650</text><text x="250.60" y="177.20" text-anchor="middle">1700</text></g>
<line x1="148.00" y1="122.10" x2="250.60" y2="122.10" stroke="#555" stroke-width="1.1" stroke-dasharray="5.3,3.1"/>
<path d="M148.00,154.23 C149.03,153.87 152.02,152.74 154.16,152.09 C156.29,151.43 158.43,150.99 160.82,150.30 C163.22,149.62 166.38,148.46 168.52,147.98 C170.66,147.51 171.51,148.04 173.65,147.45 C175.79,146.85 178.78,145.36 181.34,144.41 C183.91,143.46 186.05,142.78 189.04,141.74 C192.03,140.69 196.31,139.30 199.30,138.16 C202.29,137.03 204.43,136.14 207.00,134.95 C209.56,133.76 212.12,132.16 214.69,131.03 C217.25,129.89 220.25,128.70 222.38,128.17 C224.52,127.63 225.80,127.81 227.51,127.81 C229.22,127.81 230.51,128.59 232.64,128.17 C234.78,127.75 238.03,126.18 240.34,125.31 C242.65,124.45 245.47,123.38 246.50,122.99" fill="none" stroke="#3c3c3c" stroke-width="1.8" stroke-linejoin="round" stroke-linecap="round"/>
<path d="M148.00,154.23 C149.28,153.64 153.13,151.70 155.69,150.66 C158.26,149.62 160.57,148.64 163.39,147.98 C166.21,147.33 170.06,147.42 172.62,146.73 C175.19,146.05 176.47,144.65 178.78,143.88 C181.09,143.10 183.91,142.90 186.47,142.09 C189.04,141.29 191.18,140.16 194.17,139.06 C197.16,137.96 201.44,136.38 204.43,135.49 C207.42,134.59 209.56,134.39 212.12,133.70 C214.69,133.02 217.25,131.98 219.82,131.38 C222.38,130.79 224.95,130.94 227.51,130.13 C230.08,129.33 232.65,127.60 235.21,126.56 C237.78,125.52 240.34,124.78 242.91,123.89 C245.47,122.99 249.32,121.65 250.60,121.21" fill="none" stroke="#ee2a2a" stroke-width="1.8" stroke-linejoin="round" stroke-linecap="round"/>
<path d="M148.00,144.41 C150.56,143.67 158.26,141.35 163.39,139.95 C168.52,138.55 174.50,137.06 178.78,136.02 C183.06,134.98 185.62,134.68 189.04,133.70 C192.46,132.72 195.03,131.41 199.30,130.13 C203.58,128.85 210.41,127.22 214.69,126.03 C218.97,124.84 221.96,123.80 224.95,122.99 C227.94,122.19 230.08,121.95 232.64,121.21 C235.21,120.46 239.06,118.98 240.34,118.53" fill="none" stroke="#1463ee" stroke-width="1.8" stroke-linejoin="round" stroke-linecap="round"/>
<ellipse cx="229.8" cy="44.3" rx="24.3" ry="14.9" fill="none" stroke="#f21216" stroke-width="2.3"/>
<line x1="226.5" y1="61.2" x2="207.0" y2="92.5" stroke="#111" stroke-width="1.7"/>
<polygon points="200.1,103.8 203.4,88.3 212.4,93.9" fill="#111"/>
<rect x="32.80" y="33.60" width="31" height="19" fill="#fff"/>
<text x="33.80" y="48.60" font-family="'Liberation Serif', 'Times New Roman', serif" font-size="14.5" fill="#111"><tspan font-weight="bold">25°</tspan>C</text>
<line x1="65.20" y1="199.20" x2="92.80" y2="199.20" stroke="#3c3c3c" stroke-width="2.1"/>
<text x="95.80" y="203.60" font-family="'Liberation Serif', 'Times New Roman', serif" font-size="12" fill="#111" stroke="#111" stroke-width="0.2">0.22 l/min 150 W</text>
<line x1="65.20" y1="214.40" x2="92.80" y2="214.40" stroke="#ee2a2a" stroke-width="2.1"/>
<text x="95.80" y="218.80" font-family="'Liberation Serif', 'Times New Roman', serif" font-size="12" fill="#111" stroke="#111" stroke-width="0.2">0.3 l/min 150 W</text>
<line x1="65.20" y1="229.50" x2="92.80" y2="229.50" stroke="#1463ee" stroke-width="2.1"/>
<text x="95.80" y="234.50" font-family="'Liberation Serif', 'Times New Roman', serif" font-size="12" fill="#111" stroke="#111" stroke-width="0.2">0.5 l/min 150 W</text></g>
<g id="c2"><g stroke="#dedede" stroke-width="1" stroke-dasharray="1.2,1.6" fill="none"><line x1="332.95" y1="11.10" x2="332.95" y2="227.80"/><line x1="383.85" y1="11.10" x2="383.85" y2="227.80"/><line x1="434.75" y1="11.10" x2="434.75" y2="227.80"/><line x1="485.65" y1="11.10" x2="485.65" y2="227.80"/><line x1="307.50" y1="227.80" x2="536.55" y2="227.80"/><line x1="307.50" y1="188.40" x2="536.55" y2="188.40"/><line x1="307.50" y1="149.00" x2="536.55" y2="149.00"/><line x1="307.50" y1="109.60" x2="536.55" y2="109.60"/><line x1="307.50" y1="70.20" x2="536.55" y2="70.20"/><line x1="307.50" y1="30.80" x2="536.55" y2="30.80"/></g>
<g stroke="#949494" stroke-width="1.0" fill="none"><path d="M307.50,11.10 V227.80 M303.50,227.80 H536.55"/><line x1="299.50" y1="208.10" x2="307.50" y2="208.10"/><line x1="303.50" y1="188.40" x2="307.50" y2="188.40"/><line x1="299.50" y1="168.70" x2="307.50" y2="168.70"/><line x1="303.50" y1="149.00" x2="307.50" y2="149.00"/><line x1="299.50" y1="129.30" x2="307.50" y2="129.30"/><line x1="303.50" y1="109.60" x2="307.50" y2="109.60"/><line x1="299.50" y1="89.90" x2="307.50" y2="89.90"/><line x1="303.50" y1="70.20" x2="307.50" y2="70.20"/><line x1="299.50" y1="50.50" x2="307.50" y2="50.50"/><line x1="303.50" y1="30.80" x2="307.50" y2="30.80"/><line x1="299.50" y1="11.10" x2="307.50" y2="11.10"/><line x1="307.50" y1="227.80" x2="307.50" y2="235.80"/><line x1="332.95" y1="227.80" x2="332.95" y2="231.80"/><line x1="358.40" y1="227.80" x2="358.40" y2="235.80"/><line x1="383.85" y1="227.80" x2="383.85" y2="231.80"/><line x1="409.30" y1="227.80" x2="409.30" y2="235.80"/><line x1="434.75" y1="227.80" x2="434.75" y2="231.80"/><line x1="460.20" y1="227.80" x2="460.20" y2="235.80"/><line x1="485.65" y1="227.80" x2="485.65" y2="231.80"/><line x1="511.10" y1="227.80" x2="511.10" y2="235.80"/><line x1="536.55" y1="227.80" x2="536.55" y2="231.80"/></g>
<g font-family="'Liberation Serif', 'Times New Roman', serif" font-size="12" fill="#111" stroke="#111" stroke-width="0.2"><text x="293.70" y="211.80" text-anchor="end">−20</text><text x="293.70" y="172.40" text-anchor="end">−10</text><text x="293.70" y="133.00" text-anchor="end">0</text><text x="293.70" y="93.60" text-anchor="end">10</text><text x="293.70" y="54.20" text-anchor="end">20</text><text x="293.70" y="14.80" text-anchor="end">30</text><text x="307.50" y="250.00" text-anchor="middle">0</text><text x="358.40" y="250.00" text-anchor="middle">200</text><text x="409.30" y="250.00" text-anchor="middle">400</text><text x="460.20" y="250.00" text-anchor="middle">600</text><text x="511.10" y="250.00" text-anchor="middle">800</text><text x="425.00" y="268.40" text-anchor="middle">Time (sec.)</text><text transform="translate(275.20,119.40) rotate(-90)" text-anchor="middle">Battery Temperature-°C</text></g>
<line x1="307.50" y1="30.80" x2="534.80" y2="30.80" stroke="#5a5a5a" stroke-width="1" stroke-dasharray="3.6,2.8"/>
<line x1="505.50" y1="12.10" x2="505.50" y2="227.80" stroke="#5c5c5c" stroke-width="1.2" stroke-dasharray="3,3"/>
<line x1="521.03" y1="12.10" x2="521.03" y2="227.80" stroke="#5c5c5c" stroke-width="1.2" stroke-dasharray="3,3"/>
<line x1="535.28" y1="12.10" x2="535.28" y2="227.80" stroke="#5c5c5c" stroke-width="1.2" stroke-dasharray="3,3"/>
<path d="M307.50,198.64 C308.14,198.51 310.21,198.38 311.32,197.86 C312.42,197.33 313.23,196.54 314.12,195.49 C315.01,194.44 315.92,193.39 316.66,191.55 C317.40,189.71 317.93,186.89 318.57,184.46 C319.21,182.03 319.74,180.59 320.48,176.97 C321.22,173.36 322.18,167.06 323.02,162.79 C323.87,158.52 324.68,155.17 325.57,151.36 C326.46,147.56 327.48,143.42 328.37,139.94 C329.26,136.46 330.07,132.69 330.91,130.48 C331.76,128.28 332.61,126.90 333.46,126.70 C334.31,126.50 335.03,128.01 336.00,129.30 C336.98,130.59 338.12,133.17 339.31,134.42 C340.50,135.67 341.65,136.65 343.13,136.79 C344.61,136.92 346.31,136.19 348.22,135.21 C350.13,134.23 352.89,132.09 354.58,130.88 C356.28,129.66 357.38,128.79 358.40,127.94 C359.42,127.09 359.93,126.34 360.69,125.80 C361.45,125.26 362.22,125.20 362.98,124.71 C363.74,124.23 364.51,123.49 365.27,122.89 C366.04,122.28 366.80,121.62 367.56,121.09 C368.33,120.56 369.09,120.27 369.85,119.73 C370.62,119.18 371.38,118.41 372.14,117.81 C372.91,117.21 373.67,116.60 374.43,116.11 C375.20,115.62 375.96,115.51 376.72,114.89 C377.49,114.28 378.25,113.10 379.01,112.43 C379.78,111.75 380.54,111.33 381.31,110.84 C382.07,110.35 382.83,110.01 383.60,109.48 C384.36,108.95 385.12,108.28 385.89,107.66 C386.65,107.05 387.41,106.34 388.18,105.78 C388.94,105.22 389.70,104.83 390.47,104.31 C391.23,103.78 391.99,103.12 392.76,102.62 C393.52,102.11 394.28,101.87 395.05,101.27 C395.81,100.68 396.57,99.68 397.34,99.05 C398.10,98.42 398.87,98.04 399.63,97.50 C400.39,96.96 401.16,96.27 401.92,95.80 C402.68,95.32 403.45,95.25 404.21,94.64 C404.97,94.03 405.74,92.74 406.50,92.12 C407.26,91.50 408.03,91.35 408.79,90.90 C409.55,90.44 410.32,90.04 411.08,89.42 C411.85,88.79 412.61,87.68 413.37,87.13 C414.14,86.58 414.90,86.47 415.66,86.09 C416.43,85.72 417.19,85.40 417.95,84.88 C418.72,84.36 419.48,83.49 420.24,83.00 C421.01,82.51 421.77,82.53 422.53,81.94 C423.30,81.35 424.06,80.06 424.82,79.45 C425.59,78.84 426.35,78.73 427.12,78.29 C427.88,77.86 428.64,77.42 429.41,76.83 C430.17,76.25 430.93,75.26 431.70,74.79 C432.46,74.32 433.22,74.50 433.99,74.02 C434.75,73.53 435.51,72.38 436.28,71.90 C437.04,71.41 437.80,71.55 438.57,71.11 C439.33,70.66 440.09,69.76 440.86,69.22 C441.62,68.69 442.38,68.48 443.15,67.89 C443.91,67.29 444.68,66.30 445.44,65.67 C446.20,65.05 446.97,64.53 447.73,64.13 C448.49,63.72 449.26,63.69 450.02,63.25 C450.78,62.81 451.55,61.97 452.31,61.48 C453.07,60.99 453.84,60.79 454.60,60.33 C455.36,59.86 456.13,59.14 456.89,58.69 C457.66,58.25 458.42,58.01 459.18,57.64 C459.95,57.27 460.71,56.92 461.47,56.50 C462.24,56.08 463.00,55.68 463.76,55.12 C464.53,54.56 465.29,53.78 466.05,53.13 C466.82,52.48 467.58,51.68 468.34,51.23 C469.11,50.77 469.87,50.73 470.63,50.40 C471.40,50.07 472.16,49.78 472.93,49.24 C473.69,48.71 474.45,47.70 475.22,47.21 C475.98,46.72 476.74,46.68 477.51,46.31 C478.27,45.94 479.03,45.44 479.80,44.99 C480.56,44.54 481.32,44.04 482.09,43.60 C482.85,43.16 483.61,42.78 484.38,42.36 C485.14,41.94 485.90,41.45 486.67,41.06 C487.43,40.68 488.19,40.52 488.96,40.03 C489.72,39.55 490.49,38.67 491.25,38.16 C492.01,37.65 492.78,37.46 493.54,36.98 C494.30,36.50 495.07,35.72 495.83,35.29 C496.59,34.85 497.36,34.68 498.12,34.37 C498.88,34.07 499.65,33.92 500.41,33.45 C501.17,32.99 501.94,32.22 502.70,31.61 C503.47,30.99 504.31,30.17 504.99,29.76 C505.67,29.36 506.48,29.27 506.77,29.18" fill="none" stroke="#3c3c3c" stroke-width="2.0" stroke-linejoin="round" stroke-linecap="round"/>
<path d="M307.50,200.61 C308.18,200.15 310.47,199.50 311.57,197.86 C312.67,196.21 313.37,193.39 314.12,190.76 C314.86,188.14 315.28,185.71 316.03,182.10 C316.77,178.48 317.72,172.84 318.57,169.09 C319.42,165.35 320.27,161.94 321.12,159.64 C321.96,157.34 322.92,156.16 323.66,155.30 C324.40,154.45 324.40,154.42 325.57,154.52 C326.74,154.61 329.43,155.70 330.66,155.90 C331.89,156.09 332.10,155.99 332.95,155.70 C333.80,155.40 334.48,154.98 335.75,154.12 C337.02,153.27 338.89,151.76 340.58,150.58 C342.28,149.39 344.23,148.18 345.93,147.03 C347.63,145.88 349.58,144.48 350.76,143.67 C351.95,142.87 352.29,142.70 353.06,142.21 C353.82,141.73 354.58,141.27 355.35,140.77 C356.11,140.28 356.87,139.78 357.64,139.24 C358.40,138.70 359.16,138.14 359.93,137.53 C360.69,136.92 361.45,136.14 362.22,135.58 C362.98,135.03 363.74,134.87 364.51,134.20 C365.27,133.52 366.03,132.16 366.80,131.54 C367.56,130.91 368.33,130.94 369.09,130.44 C369.85,129.95 370.62,129.25 371.38,128.57 C372.14,127.89 372.91,127.02 373.67,126.35 C374.43,125.69 375.20,125.06 375.96,124.58 C376.72,124.09 377.49,123.94 378.25,123.42 C379.01,122.90 379.78,122.11 380.54,121.46 C381.31,120.82 382.07,120.11 382.83,119.55 C383.60,118.99 384.36,118.55 385.12,118.10 C385.89,117.66 386.65,117.53 387.41,116.89 C388.18,116.25 388.94,115.00 389.70,114.25 C390.47,113.50 391.23,112.97 391.99,112.39 C392.76,111.81 393.52,111.27 394.28,110.79 C395.05,110.30 395.81,110.04 396.57,109.49 C397.34,108.94 398.10,108.07 398.87,107.46 C399.63,106.86 400.39,106.42 401.16,105.84 C401.92,105.26 402.68,104.68 403.45,103.98 C404.21,103.29 404.97,102.36 405.74,101.67 C406.50,100.98 407.26,100.39 408.03,99.84 C408.79,99.30 409.55,98.93 410.32,98.42 C411.08,97.90 411.84,97.31 412.61,96.73 C413.37,96.16 414.14,95.51 414.90,94.98 C415.66,94.44 416.43,94.04 417.19,93.52 C417.95,93.00 418.72,92.37 419.48,91.85 C420.24,91.33 421.01,90.94 421.77,90.38 C422.53,89.82 423.30,89.22 424.06,88.50 C424.82,87.77 425.59,86.63 426.35,86.02 C427.12,85.42 427.88,85.27 428.64,84.88 C429.41,84.49 430.17,84.14 430.93,83.68 C431.70,83.22 432.46,82.62 433.22,82.11 C433.99,81.61 434.75,81.24 435.51,80.66 C436.28,80.08 437.04,79.24 437.80,78.64 C438.57,78.04 439.33,77.48 440.09,77.07 C440.86,76.66 441.62,76.69 442.38,76.17 C443.15,75.65 443.91,74.51 444.68,73.95 C445.44,73.39 446.20,73.37 446.97,72.81 C447.73,72.25 448.49,71.14 449.26,70.60 C450.02,70.06 450.78,70.07 451.55,69.56 C452.31,69.05 453.07,67.99 453.84,67.54 C454.60,67.09 455.36,67.22 456.13,66.86 C456.89,66.50 457.65,65.88 458.42,65.36 C459.18,64.84 459.95,64.28 460.71,63.73 C461.47,63.18 462.24,62.54 463.00,62.06 C463.76,61.58 464.53,61.17 465.29,60.85 C466.05,60.52 466.82,60.54 467.58,60.11 C468.34,59.68 469.11,58.77 469.87,58.25 C470.63,57.73 471.40,57.37 472.16,56.96 C472.93,56.55 473.69,56.19 474.45,55.79 C475.22,55.39 475.98,55.12 476.74,54.56 C477.51,53.99 478.27,52.85 479.03,52.40 C479.80,51.96 480.56,52.15 481.32,51.87 C482.09,51.60 482.85,51.24 483.61,50.76 C484.38,50.27 485.14,49.45 485.90,48.97 C486.67,48.49 487.43,48.27 488.19,47.89 C488.96,47.52 489.72,47.17 490.49,46.72 C491.25,46.27 492.01,45.63 492.78,45.19 C493.54,44.74 494.30,44.45 495.07,44.07 C495.83,43.68 496.59,43.33 497.36,42.89 C498.12,42.46 498.88,41.87 499.65,41.47 C500.41,41.08 501.17,40.82 501.94,40.51 C502.70,40.20 503.46,39.99 504.23,39.63 C504.99,39.27 505.76,38.75 506.52,38.35 C507.28,37.95 508.05,37.65 508.81,37.22 C509.57,36.79 510.34,36.14 511.10,35.77 C511.86,35.41 512.63,35.32 513.39,35.04 C514.15,34.77 514.92,34.59 515.68,34.13 C516.44,33.66 517.21,32.68 517.97,32.26 C518.74,31.83 519.50,31.85 520.26,31.58 C521.03,31.30 521.79,31.10 522.55,30.60 C523.32,30.10 524.29,28.98 524.84,28.58 C525.39,28.18 525.69,28.25 525.86,28.18" fill="none" stroke="#ee2a2a" stroke-width="2.0" stroke-linejoin="round" stroke-linecap="round"/>
<path d="M307.50,194.70 C308.14,194.64 310.21,194.51 311.32,194.31 C312.42,194.11 313.23,194.18 314.12,193.52 C315.01,192.87 315.81,192.27 316.66,190.37 C317.51,188.47 318.36,184.66 319.21,182.10 C320.06,179.53 320.80,176.91 321.75,175.00 C322.71,173.10 323.70,171.98 324.93,170.67 C326.16,169.36 327.75,168.21 329.13,167.12 C330.51,166.04 331.72,165.20 333.20,164.17 C334.69,163.13 336.85,161.68 338.04,160.91 C339.23,160.14 339.57,160.07 340.33,159.54 C341.09,159.01 341.86,158.28 342.62,157.76 C343.38,157.23 344.15,156.86 344.91,156.38 C345.68,155.90 346.44,155.40 347.20,154.88 C347.97,154.37 348.73,153.84 349.49,153.27 C350.26,152.70 351.02,152.05 351.78,151.46 C352.55,150.87 353.31,150.28 354.07,149.72 C354.84,149.16 355.60,148.69 356.36,148.11 C357.13,147.54 357.89,146.83 358.65,146.27 C359.42,145.71 360.18,145.36 360.94,144.76 C361.71,144.16 362.47,143.27 363.24,142.68 C364.00,142.10 364.76,141.84 365.53,141.25 C366.29,140.66 367.05,139.82 367.82,139.13 C368.58,138.45 369.34,137.79 370.11,137.14 C370.87,136.49 371.63,135.88 372.40,135.24 C373.16,134.59 373.92,133.80 374.69,133.28 C375.45,132.75 376.21,132.66 376.98,132.07 C377.74,131.49 378.51,130.48 379.27,129.77 C380.03,129.06 380.80,128.45 381.56,127.82 C382.32,127.19 383.09,126.56 383.85,126.00 C384.61,125.45 385.38,125.12 386.14,124.52 C386.90,123.91 387.67,123.10 388.43,122.39 C389.19,121.68 389.96,120.80 390.72,120.24 C391.49,119.68 392.25,119.61 393.01,119.04 C393.78,118.46 394.54,117.49 395.30,116.79 C396.07,116.08 396.83,115.38 397.59,114.81 C398.36,114.23 399.12,113.91 399.88,113.31 C400.65,112.71 401.41,111.81 402.17,111.21 C402.94,110.61 403.70,110.26 404.46,109.70 C405.23,109.13 405.99,108.43 406.75,107.81 C407.52,107.20 408.28,106.63 409.05,105.99 C409.81,105.35 410.57,104.61 411.34,103.98 C412.10,103.36 412.86,102.86 413.63,102.24 C414.39,101.61 415.15,100.81 415.92,100.24 C416.68,99.67 417.44,99.39 418.21,98.83 C418.97,98.28 419.73,97.56 420.50,96.91 C421.26,96.26 422.02,95.55 422.79,94.94 C423.55,94.34 424.32,93.79 425.08,93.28 C425.84,92.78 426.61,92.51 427.37,91.93 C428.13,91.36 428.90,90.43 429.66,89.84 C430.42,89.24 431.19,88.92 431.95,88.37 C432.71,87.82 433.48,87.11 434.24,86.53 C435.00,85.95 435.77,85.46 436.53,84.89 C437.30,84.31 438.06,83.61 438.82,83.07 C439.59,82.53 440.35,82.10 441.11,81.67 C441.88,81.23 442.64,80.93 443.40,80.45 C444.17,79.97 444.93,79.38 445.69,78.78 C446.46,78.17 447.22,77.35 447.98,76.80 C448.75,76.24 449.51,75.97 450.27,75.45 C451.04,74.92 451.80,74.17 452.56,73.65 C453.33,73.13 454.09,72.75 454.86,72.31 C455.62,71.88 456.38,71.55 457.15,71.03 C457.91,70.51 458.67,69.69 459.44,69.21 C460.20,68.72 460.96,68.51 461.73,68.13 C462.49,67.76 463.25,67.52 464.02,66.95 C464.78,66.39 465.54,65.21 466.31,64.74 C467.07,64.27 467.83,64.55 468.60,64.14 C469.36,63.73 470.13,62.82 470.89,62.27 C471.65,61.73 472.42,61.30 473.18,60.87 C473.94,60.44 474.71,60.05 475.47,59.70 C476.23,59.34 477.00,59.21 477.76,58.75 C478.52,58.29 479.29,57.37 480.05,56.93 C480.81,56.50 481.58,56.49 482.34,56.15 C483.11,55.81 483.87,55.33 484.63,54.88 C485.40,54.43 486.16,53.93 486.92,53.45 C487.69,52.98 488.45,52.44 489.21,52.01 C489.98,51.59 490.74,51.31 491.50,50.91 C492.27,50.52 493.03,50.00 493.79,49.63 C494.56,49.27 495.32,49.07 496.08,48.72 C496.85,48.36 497.61,47.87 498.38,47.51 C499.14,47.16 499.90,46.94 500.67,46.57 C501.43,46.20 502.19,45.72 502.96,45.29 C503.72,44.86 504.48,44.37 505.25,44.01 C506.01,43.64 506.77,43.45 507.54,43.09 C508.30,42.73 509.06,42.21 509.83,41.86 C510.59,41.51 511.35,41.31 512.12,40.99 C512.88,40.67 513.64,40.31 514.41,39.94 C515.17,39.57 515.94,39.13 516.70,38.76 C517.46,38.40 518.23,38.13 518.99,37.77 C519.75,37.41 520.52,36.94 521.28,36.58 C522.04,36.23 522.81,36.02 523.57,35.64 C524.33,35.26 525.10,34.64 525.86,34.31 C526.62,33.98 527.39,33.95 528.15,33.68 C528.91,33.41 529.68,32.98 530.44,32.67 C531.21,32.36 531.97,32.16 532.73,31.82 C533.50,31.47 534.56,30.84 535.02,30.60 C535.49,30.36 535.45,30.42 535.53,30.38" fill="none" stroke="#1463ee" stroke-width="2.0" stroke-linejoin="round" stroke-linecap="round"/>

<rect x="291.70" y="22.80" width="31" height="19" fill="#fff"/>
<text x="292.70" y="37.80" font-family="'Liberation Serif', 'Times New Roman', serif" font-size="14.5" font-weight="bold" fill="#111">25°C</text>
<line x1="332.00" y1="183.40" x2="359.50" y2="183.40" stroke="#3c3c3c" stroke-width="2.1"/>
<text x="362.90" y="188.20" font-family="'Liberation Serif', 'Times New Roman', serif" font-size="12" fill="#111" stroke="#111" stroke-width="0.2">0.22 l/min 225W</text>
<line x1="332.00" y1="198.90" x2="359.50" y2="198.90" stroke="#ee2a2a" stroke-width="2.1"/>
<text x="362.90" y="203.30" font-family="'Liberation Serif', 'Times New Roman', serif" font-size="12" fill="#111" stroke="#111" stroke-width="0.2">0.3 l/min 225W</text>
<line x1="332.00" y1="214.50" x2="359.50" y2="214.50" stroke="#1463ee" stroke-width="2.1"/>
<text x="362.90" y="218.60" font-family="'Liberation Serif', 'Times New Roman', serif" font-size="12" fill="#111" stroke="#111" stroke-width="0.2">0.5 l/min 225W</text>
<rect x="512.80" y="139.90" width="34.80" height="14" fill="#fff"/>
<text x="514.30" y="150.40" font-family="'Liberation Serif', 'Times New Roman', serif" font-size="12.3" font-weight="bold" fill="#111" stroke="#111" stroke-width="0.15" xml:space="preserve">895<tspan font-size="9.6">sec.</tspan></text>
<rect x="506.00" y="168.60" width="39.50" height="14" fill="#fff"/>
<text x="507.50" y="179.10" font-family="'Liberation Serif', 'Times New Roman', serif" font-size="12.3" font-weight="bold" fill="#111" stroke="#111" stroke-width="0.15" xml:space="preserve">839sec.</text>
<rect x="492.50" y="194.50" width="41.60" height="14" fill="#fff"/>
<text x="494.00" y="205.00" font-family="'Liberation Serif', 'Times New Roman', serif" font-size="12.3" font-weight="bold" fill="#111" stroke="#111" stroke-width="0.15" xml:space="preserve">778 sec.</text></g>
</svg>
</body></html>
